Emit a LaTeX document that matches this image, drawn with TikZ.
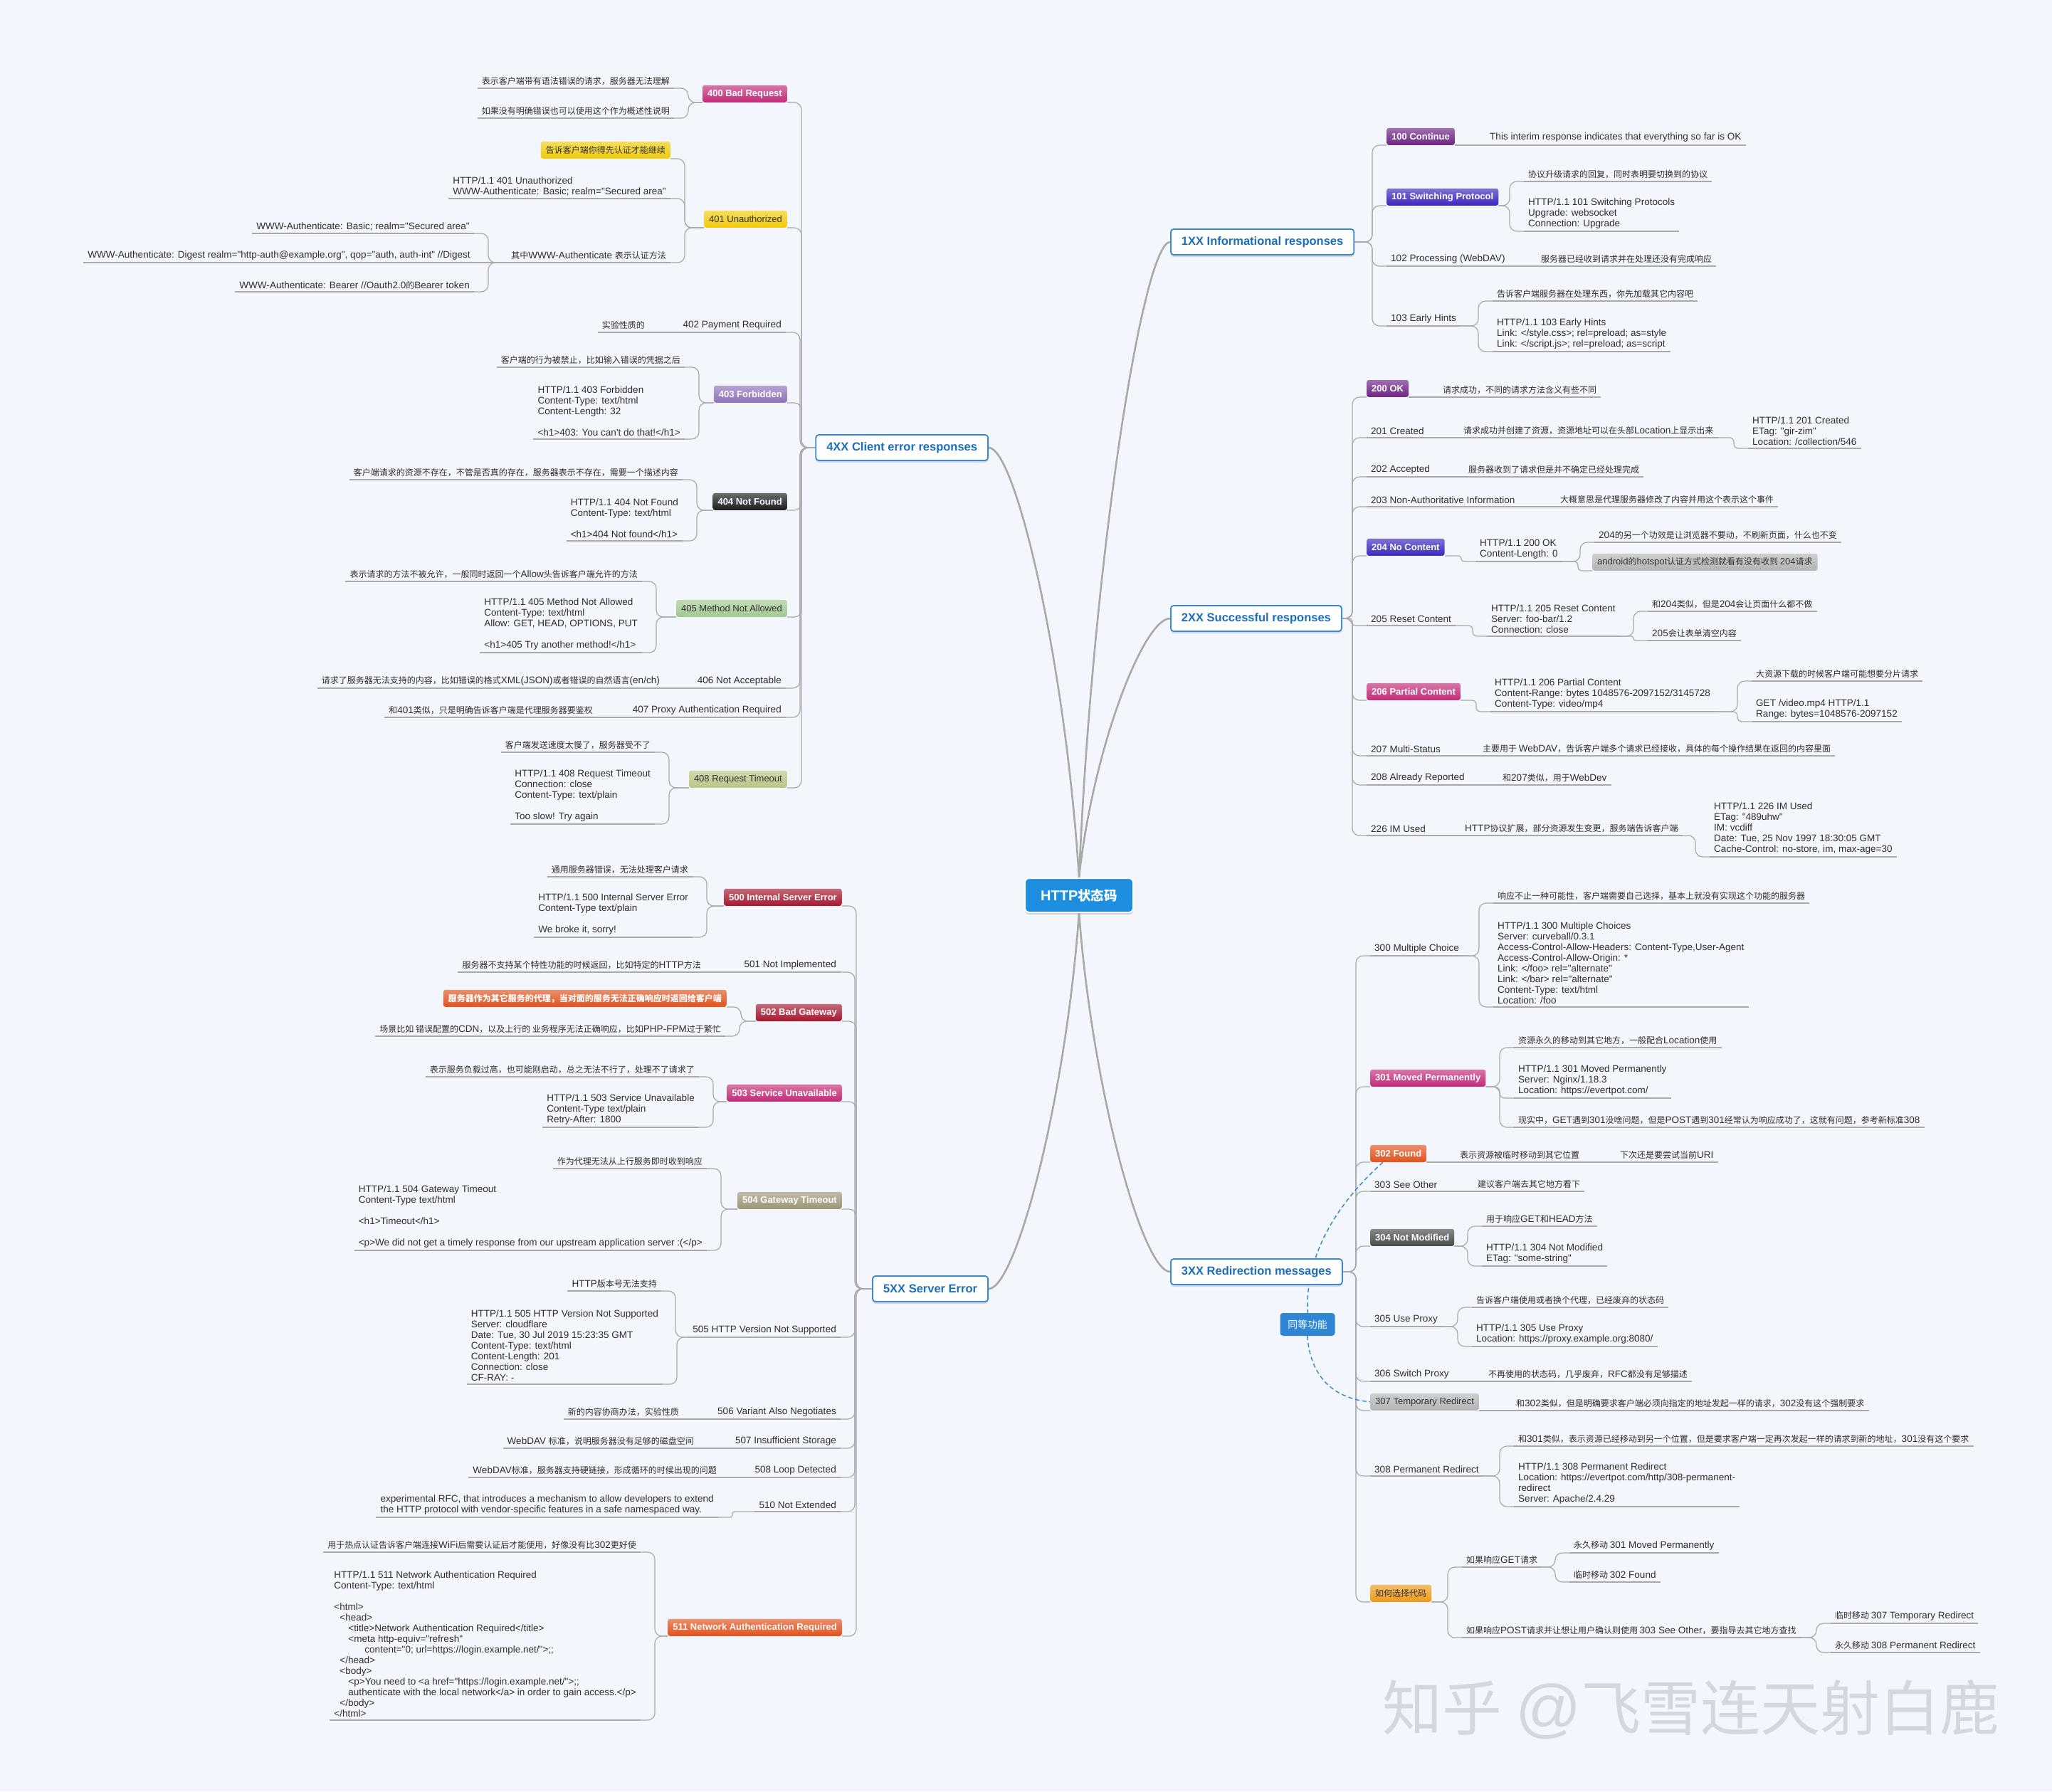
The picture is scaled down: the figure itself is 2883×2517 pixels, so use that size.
\documentclass[tikz,border=0pt]{standalone}
\usepackage{fontspec}
\setmainfont{Liberation Sans}
\newfontfamily\leaffont[Scale=1.04]{Liberation Sans}
\newfontfamily\zhfont[Scale=0.923]{Noto Sans CJK SC}
\usetikzlibrary{shadows}

% Chinese characters are set in the CJK font
\def\latinfont{\rmfamily}
\newXeTeXintercharclass\zhclass
\newcount\zhc
\def\zhrange#1#2{\zhc=#1\relax
  \loop\XeTeXcharclass\zhc=\zhclass\relax
  \ifnum\zhc<#2\relax\advance\zhc by 1\relax\repeat}
\zhrange{"3000}{"303F}
\zhrange{"4E00}{"9FFF}
\zhrange{"FF00}{"FFEF}
\XeTeXinterchartoks 0 \zhclass = {\zhfont}
\XeTeXinterchartoks 4095 \zhclass = {\zhfont}
\XeTeXinterchartoks \zhclass 0 = {\latinfont}
\XeTeXinterchartoks 4095 0 = {\latinfont}
\XeTeXinterchartokenstate=1

\definecolor{bgpaper}{HTML}{F3F6FC}
\definecolor{linegray}{HTML}{A9A9A9}
\definecolor{leaftext}{HTML}{2E2E2E}
\definecolor{darktext}{HTML}{333333}
\definecolor{topicblue}{HTML}{3B88CE}
\definecolor{topictext}{HTML}{1D6EBA}
\definecolor{hubblue}{HTML}{1E8FE0}
\definecolor{relblue}{HTML}{2F86D2}
\definecolor{cpurple}{HTML}{6C2484}
\definecolor{cviolet}{HTML}{3B27BE}
\definecolor{cmagenta}{HTML}{C22C78}
\definecolor{corange}{HTML}{E2521C}
\definecolor{cdark}{HTML}{4A4A4A}
\definecolor{cgray}{HTML}{B4B4B4}
\definecolor{cgold}{HTML}{EE9A1A}
\definecolor{cyellow}{HTML}{F0CB0A}
\definecolor{clavender}{HTML}{9072BA}
\definecolor{cblack}{HTML}{1C1C1C}
\definecolor{cgreen}{HTML}{A3C892}
\definecolor{colive}{HTML}{B9C685}
\definecolor{ccrimson}{HTML}{A61830}
\definecolor{ckhaki}{HTML}{9C9676}
\definecolor{wmgray}{HTML}{D4D8DE}

\pgfdeclarelayer{paper}
\pgfdeclarelayer{links}
\pgfsetlayers{paper,links,main}

\tikzset{
  conn/.style={draw=linegray, line width=1.2pt},
  rlink/.style={conn, rounded corners=#1, to path={-| ([xshift=-20pt]\tikztotarget) -- (\tikztotarget)}},
  rlink/.default=10pt,
  llink/.style={conn, rounded corners=#1, to path={-| ([xshift=20pt]\tikztotarget) -- (\tikztotarget)}},
  llink/.default=10pt,
  spoke/.style={draw=linegray, line width=2.6pt},
  relline/.style={draw=relblue, line width=1.4pt, dash pattern=on 6pt off 4pt},
  leaf/.style={inner xsep=6pt, inner ysep=4pt, align=left, text=leaftext,
    font={\fontsize{13}{15}\selectfont\def\latinfont{\leaffont}},
    append after command={(\tikzlastnode.south west) edge[conn] (\tikzlastnode.south east)}},
  tag/.style={rounded corners=3pt, inner xsep=7pt, inner ysep=3pt, minimum height=24pt,
    font=\fontsize{13}{15}\selectfont\bfseries, text=white,
    top color=#1!65!white, bottom color=#1},
  dtag/.style={tag=#1, font=\fontsize{13}{15}\selectfont, text=darktext},
  topic/.style={draw=topicblue, line width=1.8pt, fill=white, rounded corners=4pt,
    minimum height=36pt, inner xsep=15pt, text=topictext,
    font=\fontsize{16.5}{18}\selectfont\bfseries,
    drop shadow={shadow xshift=0pt, shadow yshift=-3pt, opacity=0.25}},
  hub/.style={fill=hubblue, draw=white, line width=2pt, rounded corners=6pt,
    minimum width=152pt, minimum height=48pt, text=white,
    font=\fontsize{20}{22}\selectfont\bfseries,
    drop shadow={shadow xshift=0pt, shadow yshift=-3pt, opacity=0.3}},
  relbox/.style={fill=relblue, rounded corners=4pt, minimum width=77pt,
    minimum height=32pt, text=white, font=\fontsize{15}{17}\selectfont},
}

\begin{document}
\begin{tikzpicture}[x=1pt, y=-1pt, font=\fontsize{13}{15}\selectfont]
    \begin{pgfonlayer}{paper}
        \fill[bgpaper] (0,0) rectangle (2883,2517);
    \end{pgfonlayer}

    % Centre and groups
    \node[hub] (hub) at (1516,1258) {HTTP状态码};
    \node[topic, anchor=west] (t1) at (1644,340) {1XX Informational responses};
    \node[topic, anchor=west] (t2) at (1644,869) {2XX Successful responses};
    \node[topic, anchor=west] (t3) at (1644,1787) {3XX Redirection messages};
    \node[topic, anchor=east] (t4) at (1389,629) {4XX Client error responses};
    \node[topic, anchor=east] (t5) at (1389,1811) {5XX Server Error};
    \node[relbox] (same) at (1837,1861) {同等功能};

    \begin{scope}[nodes={anchor=south west}]
    % 1XX
    \node[tag=cpurple] (c100) at (1948,204) {100 Continue};
    \node[leaf] (c100d) at (2087,204) {This interim response indicates that everything so far is OK};
    \node[tag=cviolet] (c101) at (1948,289) {101 Switching Protocol};
    \node[leaf] (c101a) at (2141,255) {协议升级请求的回复，同时表明要切换到的协议};
    \node[leaf] (c101b) at (2141,325) {HTTP/1.1 101 Switching Protocols\\Upgrade: websocket\\Connection: Upgrade};
    \node[leaf] (c102) at (1948,374) {102 Processing (WebDAV)};
    \node[leaf] (c102d) at (2159,374) {服务器已经收到请求并在处理还没有完成响应};
    \node[leaf] (c103) at (1948,458) {103 Early Hints};
    \node[leaf] (c103a) at (2097,423) {告诉客户端服务器在处理东西，你先加载其它内容吧};
    \node[leaf] (c103b) at (2097,494) {HTTP/1.1 103 Early Hints\\Link: </style.css>; rel=preload; as=style\\Link: </script.js>; rel=preload; as=script};

    % 2XX
    \node[tag=cpurple] (c200) at (1920,558) {200 OK};
    \node[leaf] (c200d) at (2021,558) {请求成功，不同的请求方法含义有些不同};
    \node[leaf] (c201) at (1920,615) {201 Created};
    \node[leaf] (c201d) at (2050,615) {请求成功并创建了资源，资源地址可以在头部Location上显示出来};
    \node[leaf] (c201e) at (2456,630) {HTTP/1.1 201 Created\\ETag: "gir-zim"\\Location: /collection/546};
    \node[leaf] (c202) at (1920,670) {202 Accepted};
    \node[leaf] (c202d) at (2057,670) {服务器收到了请求但是并不确定已经处理完成};
    \node[leaf] (c203) at (1920,712) {203 Non-Authoritative Information};
    \node[leaf] (c203d) at (2186,712) {大概意思是代理服务器修改了内容并用这个表示这个事件};
    \node[tag=cviolet] (c204) at (1920,781) {204 No Content};
    \node[leaf] (c204d) at (2073,789) {HTTP/1.1 200 OK\\Content-Length: 0};
    \node[leaf] (c204a) at (2240,762) {204的另一个功效是让浏览器不要动，不刷新页面，什么也不变};
    \node[dtag=cgray] (c204b) at (2237,802) {android的hotspot认证方式检测就看有没有收到 204请求};
    \node[leaf] (c205) at (1920,879) {205 Reset Content};
    \node[leaf] (c205d) at (2089,894) {HTTP/1.1 205 Reset Content\\Server: foo-bar/1.2\\Connection: close};
    \node[leaf] (c205a) at (2315,859) {和204类似，但是204会让页面什么都不做};
    \node[leaf] (c205b) at (2315,900) {205会让表单清空内容};
    \node[tag=cmagenta] (c206) at (1920,984) {206 Partial Content};
    \node[leaf] (c206d) at (2094,1000) {HTTP/1.1 206 Partial Content\\Content-Range: bytes 1048576-2097152/3145728\\Content-Type: video/mp4};
    \node[leaf] (c206a) at (2461,957) {大资源下载的时候客户端可能想要分片请求};
    \node[leaf] (c206b) at (2461,1014) {GET /video.mp4 HTTP/1.1\\Range: bytes=1048576-2097152};
    \node[leaf] (c207) at (1920,1062) {207 Multi-Status};
    \node[leaf] (c207d) at (2077,1062) {主要用于 WebDAV，告诉客户端多个请求已经接收，具体的每个操作结果在返回的内容里面};
    \node[leaf] (c208) at (1920,1103) {208 Already Reported};
    \node[leaf] (c208d) at (2105,1103) {和207类似，用于WebDev};
    \node[leaf] (c226) at (1920,1174) {226 IM Used};
    \node[leaf] (c226d) at (2052,1174) {HTTP协议扩展，部分资源发生变更，服务端告诉客户端};
    \node[leaf] (c226e) at (2402,1204) {HTTP/1.1 226 IM Used\\ETag: "489uhw"\\IM: vcdiff\\Date: Tue, 25 Nov 1997 18:30:05 GMT\\Cache-Control: no-store, im, max-age=30};

    % 3XX
    \node[leaf] (c300) at (1925,1343) {300 Multiple Choice};
    \node[leaf] (c300a) at (2098,1269) {响应不止一种可能性，客户端需要自己选择，基本上就没有实现这个功能的服务器};
    \node[leaf] (c300b) at (2098,1415) {HTTP/1.1 300 Multiple Choices\\Server: curveball/0.3.1\\Access-Control-Allow-Headers: Content-Type,User-Agent\\Access-Control-Allow-Origin: *\\Link: </foo> rel="alternate"\\Link: </bar> rel="alternate"\\Content-Type: text/html\\Location: /foo};
    \node[tag=cmagenta] (c301) at (1925,1527) {301 Moved Permanently};
    \node[leaf] (c301a) at (2127,1472) {资源永久的移动到其它地方，一般配合Location使用};
    \node[leaf] (c301b) at (2127,1543) {HTTP/1.1 301 Moved Permanently\\Server: Nginx/1.18.3\\Location: https://evertpot.com/};
    \node[leaf] (c301c) at (2127,1584) {现实中，GET遇到301没啥问题，但是POST遇到301经常认为响应成功了，这就有问题，参考新标准308};
    \node[tag=corange] (c302) at (1925,1633) {302 Found};
    \node[leaf] (c302d) at (2045,1633) {表示资源被临时移动到其它位置};
    \node[leaf] (c302e) at (2270,1633) {下次还是要尝试当前URI};
    \node[leaf] (c303) at (1925,1674) {303 See Other};
    \node[leaf] (c303d) at (2070,1674) {建议客户端去其它地方看下};
    \node[tag=cdark] (c304) at (1925,1751) {304 Not Modified};
    \node[leaf] (c304a) at (2082,1723) {用于响应GET和HEAD方法};
    \node[leaf] (c304b) at (2082,1779) {HTTP/1.1 304 Not Modified\\ETag: "some-string"};
    \node[leaf] (c305) at (1925,1864) {305 Use Proxy};
    \node[leaf] (c305a) at (2068,1837) {告诉客户端使用或者换个代理，已经废弃的状态码};
    \node[leaf] (c305b) at (2068,1892) {HTTP/1.1 305 Use Proxy\\Location: https://proxy.example.org:8080/};
    \node[leaf] (c306) at (1925,1941) {306 Switch Proxy};
    \node[leaf] (c306d) at (2085,1941) {不再使用的状态码，几乎废弃，RFC都没有足够描述};
    \node[dtag=cgray] (c307) at (1925,1982) {307 Temporary Redirect};
    \node[leaf] (c307d) at (2124,1982) {和302类似，但是明确要求客户端必须向指定的地址发起一样的请求，302没有这个强制要求};
    \node[leaf] (c308) at (1925,2074) {308 Permanent Redirect};
    \node[leaf] (c308a) at (2127,2032) {和301类似，表示资源已经移动到另一个位置，但是要求客户端一定再次发起一样的请求到新的地址，301没有这个要求};
    \node[leaf] (c308b) at (2127,2117) {HTTP/1.1 308 Permanent Redirect\\Location: https://evertpot.com/http/308-permanent-\\redirect\\Server: Apache/2.4.29};
    \node[dtag=cgold] (chow) at (1925,2251) {如何选择代码};
    \node[leaf] (cget) at (2054,2202) {如果响应GET请求};
    \node[leaf] (cget1) at (2205,2182) {永久移动 301 Moved Permanently};
    \node[leaf] (cget2) at (2205,2223) {临时移动 302 Found};
    \node[leaf] (cpost) at (2054,2301) {如果响应POST请求并让想让用户确认则使用 303 See Other，要指导去其它地方查找};
    \node[leaf] (cpost1) at (2572,2281) {临时移动 307 Temporary Redirect};
    \node[leaf] (cpost2) at (2572,2322) {永久移动 308 Permanent Redirect};
    \end{scope}

    \begin{scope}[nodes={anchor=south east}]
    % 4XX
    \node[tag=cmagenta] (c400) at (1106,144) {400 Bad Request};
    \node[leaf] (c400a) at (947,124) {表示客户端带有语法错误的请求，服务器无法理解};
    \node[leaf] (c400b) at (947,166) {如果没有明确错误也可以使用这个作为概述性说明};
    \node[dtag=cyellow] (c401) at (1106,320) {401 Unauthorized};
    \node[dtag=cyellow] (c401a) at (942,223) {告诉客户端你得先认证才能继续};
    \node[leaf] (c401b) at (942,279) {HTTP/1.1 401 Unauthorized\\WWW-Authenticate: Basic; realm="Secured area"};
    \node[leaf] (c401c) at (942,369) {其中WWW-Authenticate 表示认证方法};
    \node[leaf] (c401c1) at (666,328) {WWW-Authenticate: Basic; realm="Secured area"};
    \node[leaf] (c401c2) at (667,369) {WWW-Authenticate: Digest realm="http-auth@example.org", qop="auth, auth-int" //Digest};
    \node[leaf] (c401c3) at (666,410) {WWW-Authenticate: Bearer //Oauth2.0的Bearer token};
    \node[leaf] (c402) at (1104,467) {402 Payment Required};
    \node[leaf] (c402d) at (912,467) {实验性质的};
    \node[tag=clavender] (c403) at (1106,566) {403 Forbidden};
    \node[leaf] (c403a) at (962,516) {客户端的行为被禁止，比如输入错误的凭据之后};
    \node[leaf] (c403b) at (962,617) {HTTP/1.1 403 Forbidden\\Content-Type: text/html\\Content-Length: 32\\[15pt]<h1>403: You can\textquotesingle t do that!</h1>};
    \node[tag=cblack] (c404) at (1106,717) {404 Not Found};
    \node[leaf] (c404a) at (959,674) {客户端请求的资源不存在，不管是否真的存在，服务器表示不存在，需要一个描述内容};
    \node[leaf] (c404b) at (959,760) {HTTP/1.1 404 Not Found\\Content-Type: text/html\\[15pt]<h1>404 Not found</h1>};
    \node[dtag=cgreen] (c405) at (1106,867) {405 Method Not Allowed};
    \node[leaf] (c405a) at (902,817) {表示请求的方法不被允许，一般同时返回一个Allow头告诉客户端允许的方法};
    \node[leaf] (c405b) at (902,917) {HTTP/1.1 405 Method Not Allowed\\Content-Type: text/html\\Allow: GET, HEAD, OPTIONS, PUT\\[15pt]<h1>405 Try another method!</h1>};
    \node[leaf] (c406) at (1104,967) {406 Not Acceptable};
    \node[leaf] (c406d) at (933,967) {请求了服务器无法支持的内容，比如错误的格式XML(JSON)或者错误的自然语言(en/ch)};
    \node[leaf] (c407) at (1104,1008) {407 Proxy Authentication Required};
    \node[leaf] (c407d) at (839,1008) {和401类似，只是明确告诉客户端是代理服务器要鉴权};
    \node[dtag=colive] (c408) at (1106,1107) {408 Request Timeout};
    \node[leaf] (c408a) at (920,1057) {客户端发送速度太慢了，服务器受不了};
    \node[leaf] (c408b) at (920,1158) {HTTP/1.1 408 Request Timeout\\Connection: close\\Content-Type: text/plain\\[15pt]Too slow! Try again};

    % 5XX
    \node[tag=ccrimson] (c500) at (1183,1273) {500 Internal Server Error};
    \node[leaf] (c500a) at (973,1232) {通用服务器错误，无法处理客户请求};
    \node[leaf] (c500b) at (973,1317) {HTTP/1.1 500 Internal Server Error\\Content-Type text/plain\\[15pt]We broke it, sorry!};
    \node[leaf] (c501) at (1181,1366) {501 Not Implemented};
    \node[leaf] (c501d) at (991,1366) {服务器不支持某个特性功能的时候返回，比如特定的HTTP方法};
    \node[tag=ccrimson] (c502) at (1183,1435) {502 Bad Gateway};
    \node[tag=corange] (c502a) at (1021,1415) {服务器作为其它服务的代理，当对面的服务无法正确响应时返回给客户端};
    \node[leaf] (c502b) at (1019,1456) {场景比如 错误配置的CDN，以及上行的 业务程序无法正确响应，比如PHP-FPM过于繁忙};
    \node[tag=cmagenta] (c503) at (1183,1548) {503 Service Unavailable};
    \node[leaf] (c503a) at (982,1513) {表示服务负载过高，也可能刚启动，总之无法不行了，处理不了请求了};
    \node[leaf] (c503b) at (982,1584) {HTTP/1.1 503 Service Unavailable\\Content-Type text/plain\\Retry-After: 1800};
    \node[tag=ckhaki] (c504) at (1183,1699) {504 Gateway Timeout};
    \node[leaf] (c504a) at (993,1642) {作为代理无法从上行服务即时收到响应};
    \node[leaf] (c504b) at (993,1757) {HTTP/1.1 504 Gateway Timeout\\Content-Type text/html\\[15pt]<h1>Timeout</h1>\\[15pt]<p>We did not get a timely response from our upstream application server :(</p>};
    \node[leaf] (c505) at (1181,1879) {505 HTTP Version Not Supported};
    \node[leaf] (c505a) at (929,1814) {HTTP版本号无法支持};
    \node[leaf] (c505b) at (931,1945) {HTTP/1.1 505 HTTP Version Not Supported\\Server: cloudflare\\Date: Tue, 30 Jul 2019 15:23:35 GMT\\Content-Type: text/html\\Content-Length: 201\\Connection: close\\CF-RAY: -};
    \node[leaf] (c506) at (1181,1994) {506 Variant Also Negotiates};
    \node[leaf] (c506d) at (960,1994) {新的内容协商办法，实验性质};
    \node[leaf] (c507) at (1181,2035) {507 Insufficient Storage};
    \node[leaf] (c507d) at (981,2035) {WebDAV 标准，说明服务器没有足够的磁盘空间};
    \node[leaf] (c508) at (1181,2076) {508 Loop Detected};
    \node[leaf] (c508d) at (1013,2076) {WebDAV标准，服务器支持硬链接，形成循环的时候出现的问题};
    \node[leaf] (c510) at (1181,2124) {510 Not Extended};
    \node[leaf] (c510d) at (1009,2132) {experimental RFC, that introduces a mechanism to allow developers to extend\\the HTTP protocol with vendor-specific features in a safe namespaced way.};
    \node[tag=corange] (c511) at (1183,2299) {511 Network Authentication Required};
    \node[leaf] (c511a) at (900,2181) {用于热点认证告诉客户端连接WiFi后需要认证后才能使用，好像没有比302更好使};
    \node[leaf] (c511b) at (900,2417) {HTTP/1.1 511 Network Authentication Required\\Content-Type: text/html\\[15pt]<html>\\
      \hspace*{8pt}<head>\\\hspace*{20pt}<title>Network Authentication Required</title>\\
      \hspace*{20pt}<meta http-equiv="refresh"\\\hspace*{43pt}content="0; url=https://login.example.net/">;;\\
      \hspace*{8pt}</head>\\\hspace*{8pt}<body>\\\hspace*{20pt}<p>You need to <a href="https://login.example.net/">;;\\
      \hspace*{20pt}authenticate with the local network</a> in order to gain access.</p>\\
      \hspace*{8pt}</body>\\</html>};
    \end{scope}

    \node[text=wmgray, font=\fontsize{91}{96}\selectfont] (mark) at (2376,2402) {知乎 @飞雪连天射白鹿};

    \begin{pgfonlayer}{links}
    % Centre to groups
    \draw[spoke] (hub.north) .. controls (1535,788) and (1606,340) .. (t1.west);
    \draw[spoke] (hub.north) .. controls (1535,1055) and (1606,869) .. (t2.west);
    \draw[spoke] (hub.north) .. controls (1497,932) and (1427,629) .. (t4.east);
    \draw[spoke] (hub.south) .. controls (1535,1535) and (1606,1787) .. (t3.west);
    \draw[spoke] (hub.south) .. controls (1497,1547) and (1427,1811) .. (t5.east);

    % 1XX
    \foreach \c in {c100,c101,c102,c103} \draw[rlink] (t1.east) to (\c.south west);
    \draw[conn] (c100.south east) -- (c100d.south west);
    \foreach \c in {c101a,c101b} \draw[rlink] (c101.south east) to (\c.south west);
    \draw[conn] (c102.south east) -- (c102d.south west);
    \foreach \c in {c103a,c103b} \draw[rlink] (c103.south east) to (\c.south west);

    % 2XX
    \foreach \c in {c200,c201,c202,c203,c204,c206,c207,c208,c226} \draw[rlink] (t2.east) to (\c.south west);
    \draw[rlink=4pt] (t2.east) to (c205.south west);
    \draw[conn] (c200.south east) -- (c200d.south west);
    \draw[conn] (c201.south east) -- (c201d.south west);
    \draw[rlink=6pt] (c201d.south east) to (c201e.south west);
    \draw[conn] (c202.south east) -- (c202d.south west);
    \draw[conn] (c203.south east) -- (c203d.south west);
    \draw[rlink=4pt] (c204.south east) to (c204d.south west);
    \draw[rlink] (c204d.south east) to (c204a.south west);
    \draw[rlink=5pt] (c204d.south east) to (c204b.south west);
    \draw[rlink=6pt] (c205.south east) to (c205d.south west);
    \draw[rlink] (c205d.south east) to (c205a.south west);
    \draw[rlink=3pt] (c205d.south east) to (c205b.south west);
    \draw[rlink=6pt] (c206.south east) to (c206d.south west);
    \draw[rlink] (c206d.south east) to (c206a.south west);
    \draw[rlink=6pt] (c206d.south east) to (c206b.south west);
    \draw[conn] (c207.south east) -- (c207d.south west);
    \draw[conn] (c208.south east) -- (c208d.south west);
    \draw[conn] (c226.south east) -- (c226d.south west);
    \draw[rlink] (c226d.south east) to (c226e.south west);

    % 3XX
    \foreach \c in {c300,c301,c302,c303,c304,c305,c306,c307,c308,chow} \draw[rlink] (t3.east) to (\c.south west);
    \foreach \c in {c300a,c300b} \draw[rlink] (c300.south east) to (\c.south west);
    \foreach \c in {c301a,c301c} \draw[rlink] (c301.south east) to (\c.south west);
    \draw[rlink=7pt] (c301.south east) to (c301b.south west);
    \draw[conn] (c302.south east) -- (c302d.south west);
    \draw[conn] (c302d.south east) -- (c302e.south west);
    \draw[conn] (c303.south east) -- (c303d.south west);
    \foreach \c in {c304a,c304b} \draw[rlink] (c304.south east) to (\c.south west);
    \foreach \c in {c305a,c305b} \draw[rlink] (c305.south east) to (\c.south west);
    \draw[conn] (c306.south east) -- (c306d.south west);
    \draw[conn] (c307.south east) -- (c307d.south west);
    \foreach \c in {c308a,c308b} \draw[rlink] (c308.south east) to (\c.south west);
    \foreach \c in {cget,cpost} \draw[rlink] (chow.south east) to (\c.south west);
    \foreach \c in {cget1,cget2} \draw[rlink] (cget.south east) to (\c.south west);
    \foreach \c in {cpost1,cpost2} \draw[rlink] (cpost.south east) to (\c.south west);
    \draw[relline] ([xshift=18pt]c302.south west) .. controls (1880,1690) and (1834,1760) .. (same.north);
    \draw[relline] (same.south) .. controls (1840,1930) and (1870,1965) .. (c307.west);

    % 4XX
    \foreach \c in {c400,c401,c402,c403,c404,c405,c406,c407,c408} \draw[llink] (t4.west) to (\c.south east);
    \foreach \c in {c400a,c400b} \draw[llink] (c400.south west) to (\c.south east);
    \foreach \c in {c401a,c401b,c401c} \draw[llink] (c401.south west) to (\c.south east);
    \foreach \c in {c401c1,c401c3} \draw[llink] (c401c.south west) to (\c.south east);
    \draw[conn] (c401c.south west) -- (c401c2.south east);
    \draw[conn] (c402.south west) -- (c402d.south east);
    \foreach \c in {c403a,c403b} \draw[llink] (c403.south west) to (\c.south east);
    \foreach \c in {c404a,c404b} \draw[llink] (c404.south west) to (\c.south east);
    \foreach \c in {c405a,c405b} \draw[llink] (c405.south west) to (\c.south east);
    \draw[conn] (c406.south west) -- (c406d.south east);
    \draw[conn] (c407.south west) -- (c407d.south east);
    \foreach \c in {c408a,c408b} \draw[llink] (c408.south west) to (\c.south east);

    % 5XX
    \foreach \c in {c500,c501,c502,c503,c504,c505,c506,c507,c508,c510,c511} \draw[llink] (t5.west) to (\c.south east);
    \foreach \c in {c500a,c500b} \draw[llink] (c500.south west) to (\c.south east);
    \draw[conn] (c501.south west) -- (c501d.south east);
    \foreach \c in {c502a,c502b} \draw[llink] (c502.south west) to (\c.south east);
    \foreach \c in {c503a,c503b} \draw[llink] (c503.south west) to (\c.south east);
    \foreach \c in {c504a,c504b} \draw[llink] (c504.south west) to (\c.south east);
    \foreach \c in {c505a,c505b} \draw[llink] (c505.south west) to (\c.south east);
    \draw[conn] (c506.south west) -- (c506d.south east);
    \draw[conn] (c507.south west) -- (c507d.south east);
    \draw[conn] (c508.south west) -- (c508d.south east);
    \draw[llink=3pt] (c510.south west) to (c510d.south east);
    \foreach \c in {c511a,c511b} \draw[llink] (c511.south west) to (\c.south east);
    \end{pgfonlayer}
\end{tikzpicture}
\end{document}
